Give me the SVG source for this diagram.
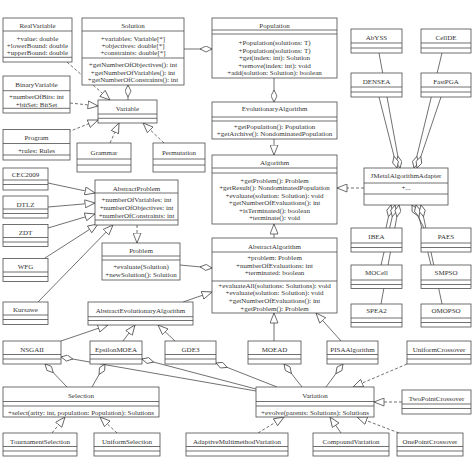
<svg xmlns="http://www.w3.org/2000/svg" width="474" height="474" viewBox="0 0 474 474">
<style>
.b{fill:#fff;stroke:#4d4d4d;stroke-width:0.8}
.d{fill:none;stroke:#4d4d4d;stroke-width:0.8}
text{font-family:"Liberation Serif","Times New Roman",serif;font-size:7px;fill:#333;text-anchor:middle}
#connectors path{fill:none;stroke:#4d4d4d;stroke-width:0.8}
#connectors path.dash{stroke-dasharray:3 2}
</style>
<defs>
<marker id="tri" viewBox="0 0 11 9" refX="10.5" refY="4.5" markerWidth="11" markerHeight="9" markerUnits="userSpaceOnUse" orient="auto"><path d="M0.5,0.5 L10.5,4.5 L0.5,8.5 Z" fill="#fff" stroke="#4d4d4d" stroke-width="0.8"/></marker>
<marker id="dia" viewBox="0 0 13 7" refX="0.5" refY="3.5" markerWidth="13" markerHeight="7" markerUnits="userSpaceOnUse" orient="auto"><path d="M0.5,3.5 L6.5,0.5 L12.5,3.5 L6.5,6.5 Z" fill="#fff" stroke="#4d4d4d" stroke-width="0.8"/></marker>
</defs>
<rect width="474" height="474" fill="#fff"/>
<g id="connectors">
<!-- aggregations -->
<path d="M128,85 L128,100" marker-start="url(#dia)"/>
<path d="M212,49 L184,49" marker-start="url(#dia)"/>
<path d="M274,102 L274,78" marker-start="url(#dia)"/>
<path d="M212,268 L180,265" marker-start="url(#dia)"/>
<path d="M400,168 L379,53" marker-start="url(#dia)"/>
<path d="M397,168 L379,97" marker-start="url(#dia)"/>
<path d="M414,168 L442,53" marker-start="url(#dia)"/>
<path d="M417,168 L441,97" marker-start="url(#dia)"/>
<path d="M391,205 L386,228" marker-start="url(#dia)"/>
<path d="M395,205 L381,265" marker-start="url(#dia)"/>
<path d="M399,205 L381,304" marker-start="url(#dia)"/>
<path d="M412,205 L424,228" marker-start="url(#dia)"/>
<path d="M416,205 L431,265" marker-start="url(#dia)"/>
<path d="M421,205 L442,304" marker-start="url(#dia)"/>
<path d="M45,364 L67,387" marker-start="url(#dia)"/>
<path d="M105,364 L92,387" marker-start="url(#dia)"/>
<path d="M61,357 L256,391" marker-start="url(#dia)"/>
<path d="M142,359 L256,389" marker-start="url(#dia)"/>
<path d="M216,363 L277,387" marker-start="url(#dia)"/>
<path d="M284,364 L302,387" marker-start="url(#dia)"/>
<path d="M343,364 L326,387" marker-start="url(#dia)"/>
<!-- realizations -->
<path class="dash" d="M67,62 L110,100" marker-end="url(#tri)"/>
<path class="dash" d="M70,103 L98,106" marker-end="url(#tri)"/>
<path class="dash" d="M68,132 L98,120" marker-end="url(#tri)"/>
<path class="dash" d="M110,143 L119,123" marker-end="url(#tri)"/>
<path class="dash" d="M164,143 L143,123" marker-end="url(#tri)"/>
<path class="dash" d="M137,225 L137,243" marker-end="url(#tri)"/>
<path class="dash" d="M364,188 L337,188" marker-end="url(#tri)"/>
<path class="dash" d="M52,433 L65,417" marker-end="url(#tri)"/>
<path class="dash" d="M117,433 L100,417" marker-end="url(#tri)"/>
<path class="dash" d="M258,433 L284,417" marker-end="url(#tri)"/>
<path class="dash" d="M399,433 L357,417" marker-end="url(#tri)"/>
<path class="dash" d="M402,402 L374,402" marker-end="url(#tri)"/>
<path class="dash" d="M407,364 L353,387" marker-end="url(#tri)"/>
<!-- generalizations -->
<path d="M341,433 L330,417" marker-end="url(#tri)"/>
<path d="M48,183 L95,193" marker-end="url(#tri)"/>
<path d="M48,207 L95,203" marker-end="url(#tri)"/>
<path d="M48,228 L95,214" marker-end="url(#tri)"/>
<path d="M45,258 L98,224" marker-end="url(#tri)"/>
<path d="M38,302 L113,225" marker-end="url(#tri)"/>
<path d="M274,139 L274,155" marker-end="url(#tri)"/>
<path d="M274,238 L274,224" marker-end="url(#tri)"/>
<path d="M183,302 L212,292" marker-end="url(#tri)"/>
<path d="M61,341 L108,325" marker-end="url(#tri)"/>
<path d="M123,341 L135,325" marker-end="url(#tri)"/>
<path d="M175,341 L158,325" marker-end="url(#tri)"/>
<path d="M274,341 L274,313" marker-end="url(#tri)"/>
<path d="M341,341 L316,313" marker-end="url(#tri)"/>
</g>

<g id="realvariable"><rect class="b" x="3" y="18" width="69" height="44"/><path class="d" d="M3 31H72M3 57.3H72"/><text x="37.5" y="27.5">RealVariable</text><text x="37.5" y="40.5">+value: double</text><text x="37.5" y="47.5">+lowerBound: double</text><text x="37.5" y="55">+upperBound: double</text></g>
<g id="solution"><rect class="b" x="82" y="18" width="102" height="67"/><path class="d" d="M82 31H184M82 58H184"/><text x="133" y="27.5">Solution</text><text x="133" y="40.5">+variables: Variable[*]</text><text x="133" y="47.5">+objectives: double[*]</text><text x="133" y="55">+constraints: double[*]</text><text x="133" y="67">+getNumberOfObjectives(): int</text><text x="133" y="74.5">+getNumberOfVariables(): int</text><text x="133" y="82">+getNumberOfConstraints(): int</text></g>
<g id="binaryvariable"><rect class="b" x="3" y="76" width="67" height="37"/><path class="d" d="M3 90.7H70M3 108.3H70"/><text x="36.5" y="87">BinaryVariable</text><text x="36.5" y="99">+numberOfBits: int</text><text x="36.5" y="106.5">+bitSet: BitSet</text></g>
<g id="variable"><rect class="b" x="98" y="100" width="59" height="23"/><path class="d" d="M98 114H157M98 118.3H157"/><text x="127.5" y="110.8">Variable</text></g>
<g id="program"><rect class="b" x="3" y="129.5" width="67" height="30.5"/><path class="d" d="M3 143.5H70M3 155H70"/><text x="36.5" y="140">Program</text><text x="36.5" y="152.5">+rules: Rules</text></g>
<g id="grammar"><rect class="b" x="77" y="143" width="54" height="29"/><path class="d" d="M77 159H131M77 165H131"/><text x="104" y="154.5">Grammar</text></g>
<g id="permutation"><rect class="b" x="153" y="143" width="52" height="29"/><path class="d" d="M153 159H205M153 165H205"/><text x="179" y="154.5">Permutation</text></g>
<g id="population"><rect class="b" x="212" y="18" width="125" height="60"/><path class="d" d="M212 30H337M212 34H337"/><text x="274.5" y="27.5">Population</text><text x="274.5" y="45">+Population(solutions: T)</text><text x="274.5" y="52.5">+Population(solutions: T)</text><text x="274.5" y="60">+get(index: int): Solution</text><text x="274.5" y="67.5">+remove(index: int): void</text><text x="274.5" y="75">+add(solution: Solution): boolean</text></g>
<g id="evolutionaryalgorithm"><rect class="b" x="212" y="102" width="125" height="37"/><path class="d" d="M212 117H337M212 121H337"/><text x="274.5" y="110.5">EvolutionaryAlgorithm</text><text x="274.5" y="128.5">+getPopulation(): Population</text><text x="274.5" y="136">+getArchive(): NondominatedPopulation</text></g>
<g id="algorithm"><rect class="b" x="212" y="155" width="125" height="69"/><path class="d" d="M212 168H337M212 173H337"/><text x="274.5" y="164.5">Algorithm</text><text x="274.5" y="182.5">+getProblem(): Problem</text><text x="274.5" y="190">+getResult(): NondominatedPopulation</text><text x="274.5" y="197.5">+evaluate(solution: Solution): void</text><text x="274.5" y="205">+getNumberOfEvaluations(): int</text><text x="274.5" y="212.5">+isTerminated(): boolean</text><text x="274.5" y="220">+terminate(): void</text></g>
<g id="abstractalgorithm"><rect class="b" x="212" y="238" width="125" height="75"/><path class="d" d="M212 252H337M212 281H337"/><text x="274.5" y="248.5">AbstractAlgorithm</text><text x="274.5" y="260">+problem: Problem</text><text x="274.5" y="267.5">+numberOfEvaluations: int</text><text x="274.5" y="274.5">+terminated: boolean</text><text x="274.5" y="287.5">+evaluateAll(solutions: Solutions): void</text><text x="274.5" y="295">+evaluate(solution: Solution): void</text><text x="274.5" y="303">+getNumberOfEvaluations(): int</text><text x="274.5" y="310.5">+getProblem(): Problem</text></g>
<g id="jmetalalgorithmadapter"><rect class="b" x="364" y="168" width="84" height="37"/><path class="d" d="M364 183H448M364 194H448"/><text x="406" y="177.5">JMetalAlgorithmAdapter</text><text x="406" y="190">+...</text></g>
<g id="abyss"><rect class="b" x="351" y="29" width="51" height="24"/><path class="d" d="M351 43H402M351 48H402"/><text x="376.5" y="39.5">AbYSS</text></g>
<g id="cellde"><rect class="b" x="421" y="29" width="50" height="24"/><path class="d" d="M421 43H471M421 48H471"/><text x="446" y="39.5">CellDE</text></g>
<g id="densea"><rect class="b" x="351" y="73" width="51" height="24"/><path class="d" d="M351 87H402M351 92H402"/><text x="376.5" y="83.5">DENSEA</text></g>
<g id="fastpga"><rect class="b" x="421" y="73" width="50" height="24"/><path class="d" d="M421 87H471M421 92H471"/><text x="446" y="83.5">FastPGA</text></g>
<g id="ibea"><rect class="b" x="351" y="228" width="51" height="24"/><path class="d" d="M351 243H402M351 247.5H402"/><text x="376.5" y="238.5">IBEA</text></g>
<g id="paes"><rect class="b" x="421" y="228" width="50" height="24"/><path class="d" d="M421 243H471M421 247.5H471"/><text x="446" y="238.5">PAES</text></g>
<g id="mocell"><rect class="b" x="351" y="265" width="51" height="23.5"/><path class="d" d="M351 280H402M351 284.5H402"/><text x="376.5" y="275">MOCell</text></g>
<g id="smpso"><rect class="b" x="421" y="265" width="50" height="23.5"/><path class="d" d="M421 280H471M421 284.5H471"/><text x="446" y="275">SMPSO</text></g>
<g id="spea2"><rect class="b" x="351" y="304" width="51" height="23"/><path class="d" d="M351 318H402M351 322.5H402"/><text x="376.5" y="312.5">SPEA2</text></g>
<g id="omopso"><rect class="b" x="421" y="304" width="50" height="23"/><path class="d" d="M421 318H471M421 322.5H471"/><text x="446" y="312.5">OMOPSO</text></g>
<g id="cec2009"><rect class="b" x="3" y="168" width="45" height="22"/><path class="d" d="M3 180H48M3 184.5H48"/><text x="25.5" y="177">CEC2009</text></g>
<g id="dtlz"><rect class="b" x="3" y="196" width="45" height="22"/><path class="d" d="M3 209H48M3 213.5H48"/><text x="25.5" y="206.5">DTLZ</text></g>
<g id="zdt"><rect class="b" x="3" y="224.5" width="45" height="22"/><path class="d" d="M3 237.5H48M3 242H48"/><text x="25.5" y="235">ZDT</text></g>
<g id="wfg"><rect class="b" x="3" y="258.5" width="45" height="23"/><path class="d" d="M3 272H48M3 276.5H48"/><text x="25.5" y="269">WFG</text></g>
<g id="kursawe"><rect class="b" x="3" y="302" width="45" height="22.5"/><path class="d" d="M3 315H48M3 319.5H48"/><text x="25.5" y="311.5">Kursawe</text></g>
<g id="abstractproblem"><rect class="b" x="95" y="180" width="83" height="45"/><path class="d" d="M95 193H178M95 220H178"/><text x="136.5" y="190.5">AbstractProblem</text><text x="136.5" y="201.8">+numberOfVariables: int</text><text x="136.5" y="209.8">+numberOfObjectives: int</text><text x="136.5" y="217.5">+numberOfConstraints: int</text></g>
<g id="problem"><rect class="b" x="102" y="243" width="78" height="37"/><path class="d" d="M102 256H180M102 260H180"/><text x="141" y="252.5">Problem</text><text x="141" y="268.5">+evaluate(Solution)</text><text x="141" y="276.5">+newSolution(): Solution</text></g>
<g id="abstractevolutionaryalgorithm"><rect class="b" x="88" y="302" width="105" height="23"/><path class="d" d="M88 316.7H193M88 320.5H193"/><text x="140.5" y="312.5">AbstractEvolutionaryAlgorithm</text></g>
<g id="nsgaii"><rect class="b" x="3" y="341" width="58" height="23"/><path class="d" d="M3 354.5H61M3 359H61"/><text x="32" y="351.5">NSGAII</text></g>
<g id="epsilonmoea"><rect class="b" x="90" y="341" width="52" height="23"/><path class="d" d="M90 354.5H142M90 359H142"/><text x="116" y="351.5">EpsilonMOEA</text></g>
<g id="gde3"><rect class="b" x="165" y="341" width="51" height="23"/><path class="d" d="M165 354.5H216M165 359H216"/><text x="190.5" y="351.5">GDE3</text></g>
<g id="moead"><rect class="b" x="248" y="341" width="53" height="23"/><path class="d" d="M248 354.5H301M248 359H301"/><text x="274.5" y="351.5">MOEAD</text></g>
<g id="pisaalgorithm"><rect class="b" x="327" y="341" width="51" height="23"/><path class="d" d="M327 354.5H378M327 359H378"/><text x="352.5" y="351.5">PISAAlgorithm</text></g>
<g id="uniformcrossover"><rect class="b" x="407" y="341" width="64" height="23"/><path class="d" d="M407 354.5H471M407 359H471"/><text x="439" y="351.5">UniformCrossover</text></g>
<g id="selection"><rect class="b" x="3" y="387" width="156" height="30"/><path class="d" d="M3 401.5H159M3 406H159"/><text x="81" y="397.5">Selection</text><text x="81" y="414.5">+select(arity: int, population: Population): Solutions</text></g>
<g id="variation"><rect class="b" x="256" y="387" width="118" height="30"/><path class="d" d="M256 401.5H374M256 406H374"/><text x="315" y="397.5">Variation</text><text x="315" y="414.5">+evolve(parents: Solutions): Solutions</text></g>
<g id="twopointcrossover"><rect class="b" x="402" y="390" width="69" height="24"/><path class="d" d="M402 404H471M402 408.5H471"/><text x="436.5" y="400.5">TwoPointCrossover</text></g>
<g id="tournamentselection"><rect class="b" x="3" y="433" width="74" height="23"/><path class="d" d="M3 446.5H77M3 451H77"/><text x="40" y="443.5">TournamentSelection</text></g>
<g id="uniformselection"><rect class="b" x="94" y="433" width="66" height="23"/><path class="d" d="M94 446.5H160M94 451H160"/><text x="127" y="443.5">UniformSelection</text></g>
<g id="adaptivemultimethodvariation"><rect class="b" x="186" y="433" width="102" height="23"/><path class="d" d="M186 446.5H288M186 451H288"/><text x="237" y="443.5">AdaptiveMultimethodVariation</text></g>
<g id="compoundvariation"><rect class="b" x="313" y="433" width="76" height="23"/><path class="d" d="M313 446.5H389M313 451H389"/><text x="351" y="443.5">CompoundVariation</text></g>
<g id="onepointcrossover"><rect class="b" x="397" y="433" width="66" height="23"/><path class="d" d="M397 446.5H463M397 451H463"/><text x="430" y="443.5">OnePointCrossover</text></g>
</svg>
